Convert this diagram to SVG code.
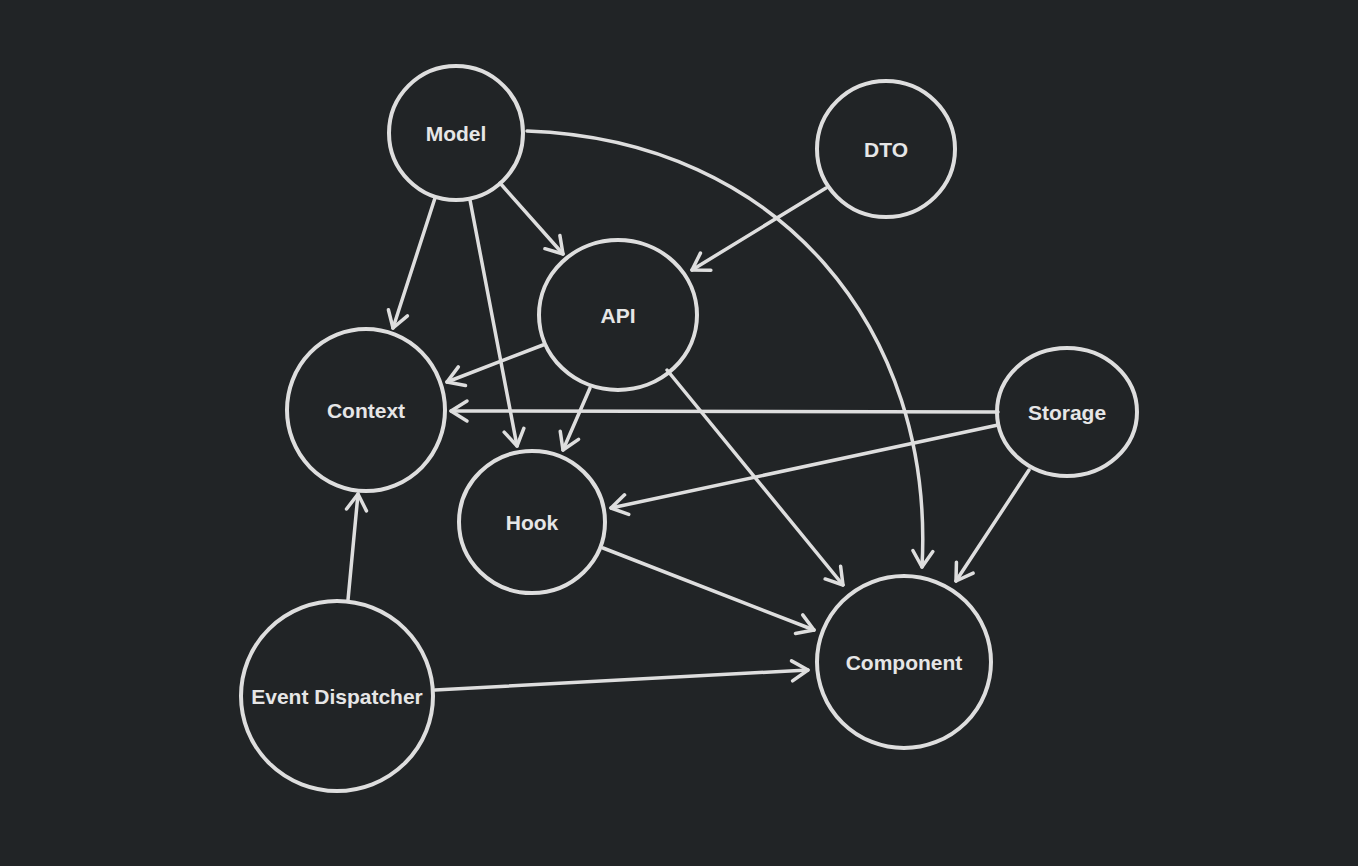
<svg xmlns="http://www.w3.org/2000/svg" width="1358" height="866" viewBox="0 0 1358 866">
<style>
.n{fill:none;stroke:#dedede;stroke-width:4}
.c{fill:none;stroke:#dedede;stroke-width:3.5;stroke-linecap:round;marker-end:url(#a)}
text{font-family:"Liberation Sans",sans-serif;font-weight:bold;font-size:21px;fill:#e6e6e6;text-anchor:middle;dominant-baseline:central}
</style>
<defs>
<marker id="a" markerUnits="userSpaceOnUse" markerWidth="30" markerHeight="30" refX="0" refY="0" viewBox="-20 -15 30 30" orient="auto">
<path d="M-16,-10 L0,0 L-16,10" fill="none" stroke="#dedede" stroke-width="3.5" stroke-linecap="round" stroke-linejoin="round"/>
</marker>
</defs>
<rect width="1358" height="866" fill="#212426"/>
<g id="connectors">
<path class="c" d="M435,198 L393,328"/>
<path class="c" d="M470,200 L517,446"/>
<path class="c" d="M500,183 L563,254"/>
<path class="c" d="M527,131 C780,140 935,330 922,567"/>
<path class="c" d="M826,188 L692,270"/>
<path class="c" d="M543,345 L447,382"/>
<path class="c" d="M590,388 L563,450"/>
<path class="c" d="M667,370 L843,585"/>
<path class="c" d="M998,412 L451,411"/>
<path class="c" d="M998,425 L611,508"/>
<path class="c" d="M1029,470 L956,581"/>
<path class="c" d="M603,548 L814,630"/>
<path class="c" d="M348,600 L358,494"/>
<path class="c" d="M435,690 L808,670"/>
</g>
<g id="model"><ellipse class="n" cx="456" cy="133" rx="67" ry="67"/><text x="456" y="133">Model</text></g>
<g id="dto"><ellipse class="n" cx="886" cy="149" rx="69" ry="68"/><text x="886" y="149">DTO</text></g>
<g id="api"><ellipse class="n" cx="618" cy="315" rx="79" ry="75"/><text x="618" y="315">API</text></g>
<g id="context"><ellipse class="n" cx="366" cy="410" rx="79" ry="81"/><text x="366" y="410">Context</text></g>
<g id="storage"><ellipse class="n" cx="1067" cy="412" rx="70" ry="64"/><text x="1067" y="412">Storage</text></g>
<g id="hook"><ellipse class="n" cx="532" cy="522" rx="73" ry="71"/><text x="532" y="522">Hook</text></g>
<g id="component"><ellipse class="n" cx="904" cy="662" rx="87" ry="86"/><text x="904" y="662">Component</text></g>
<g id="event"><ellipse class="n" cx="337" cy="696" rx="96" ry="95"/><text x="337" y="696">Event Dispatcher</text></g>
</svg>
